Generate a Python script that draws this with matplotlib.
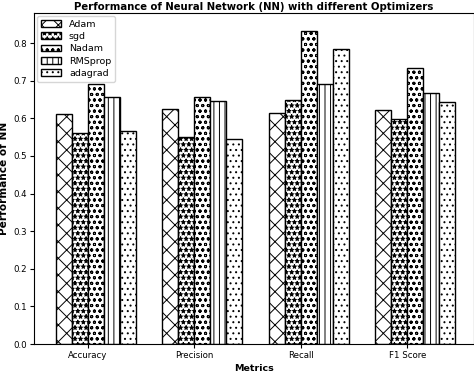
import matplotlib
matplotlib.use("Agg")
import matplotlib.pyplot as plt
import numpy as np

metrics = ["Accuracy", "Precision", "Recall", "F1 Score"]
optimizers = ["Adam", "sgd", "Nadam", "RMSprop", "adagrad"]
adam = [0.612, 0.626, 0.615, 0.622]
sgd = [0.560, 0.551, 0.649, 0.597]
nadam = [0.692, 0.656, 0.833, 0.733]
rmsprop = [0.657, 0.647, 0.692, 0.668]
adagrad = [0.565, 0.545, 0.785, 0.644]
series = [adam, sgd, nadam, rmsprop, adagrad]
hatches = ["xx", "***", "ooo", "|||", "..."]

plt.rcParams["hatch.linewidth"] = 0.7
fig = plt.figure(figsize=(4.74, 3.72), dpi=100)
ax = fig.add_axes([34/474, 1 - 344/372, 440/474, (344 - 13)/372])

w = 0.15
x = np.arange(len(metrics))
for i, (name, vals, h) in enumerate(zip(optimizers, series, hatches)):
    ax.bar(x + i * w, vals, w, label=name, color="white", edgecolor="black",
           hatch=h, linewidth=1.0)

ax.set_xticks(x + 1.5 * w)
ax.set_xticklabels(metrics, fontsize=6.2)
ax.tick_params(axis="y", labelsize=6.2, length=3, pad=2)
ax.tick_params(axis="x", length=3, pad=2)
ax.set_ylim(0, 0.88)
ax.set_yticks(np.arange(0, 0.81, 0.1))
ax.set_xlim(-0.28, 3.85)
ax.set_xlabel("Metrics", fontsize=6.8, fontweight="bold", labelpad=3)
ax.set_ylabel("Performance of NN", fontsize=7.6, fontweight="bold", labelpad=3)
ax.set_title("Performance of Neural Network (NN) with different Optimizers",
             fontsize=7.3, fontweight="bold", pad=2)
ax.legend(loc="upper left", fontsize=6.8, frameon=True, handlelength=2.2,
          borderaxespad=0.3, labelspacing=0.35)
fig.savefig("out.png", dpi=100)
